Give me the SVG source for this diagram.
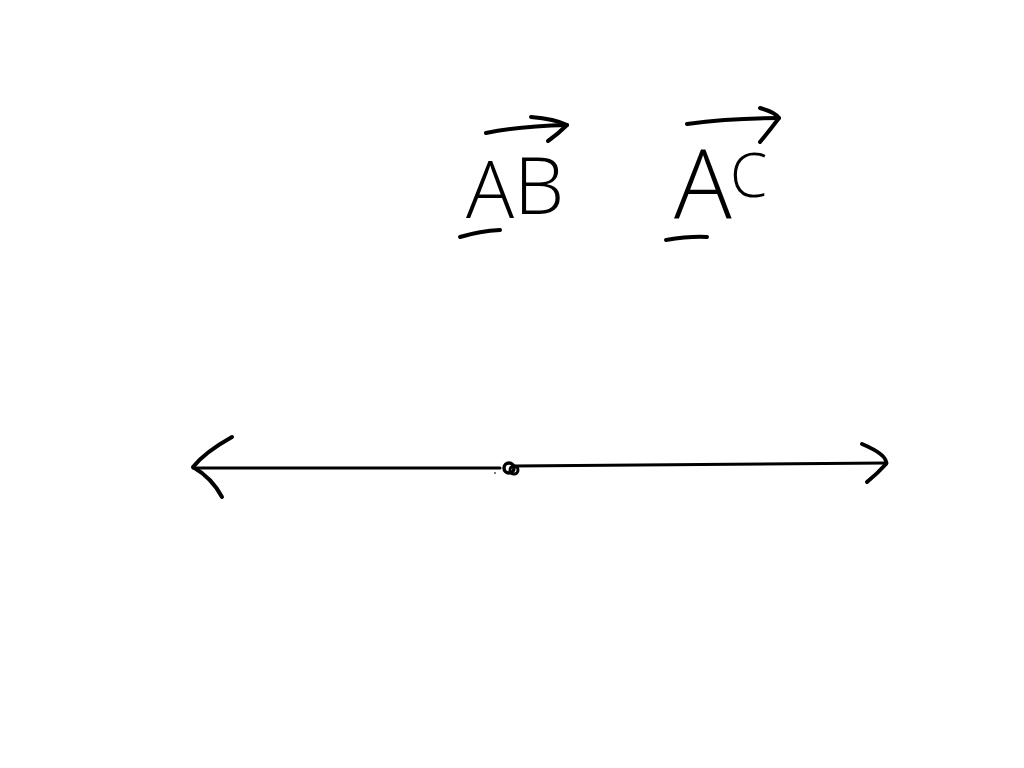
<svg xmlns="http://www.w3.org/2000/svg" width="1024" height="768" viewBox="0 0 1024 768">
<style>
.ink{fill:none;stroke:#000;stroke-width:4;stroke-linecap:round;stroke-linejoin:round}
.thin{fill:none;stroke:#000;stroke-width:3;stroke-linecap:round;stroke-linejoin:round}
.let{font-family:"Open Sans","Liberation Sans",Arial,sans-serif;font-weight:300;fill:#000}
</style>
<rect width="1024" height="768" fill="#fff"/>
<g id="label-AB">
<text class="let" x="466" y="218" font-size="80"><tspan font-size="80">A</tspan><tspan x="514" y="214" font-size="80">B</tspan></text>
<path class="ink" d="M486,133 Q520,126 567,125"/>
<path class="ink" d="M531,117 Q555,119 567,125 Q558,134 548,141"/>
<path class="ink" d="M460,237 Q480,231 500,230"/>
</g>
<g id="label-AC">
<text class="let" x="674" y="218" font-size="96"><tspan>A</tspan><tspan x="730" y="197" font-size="60">C</tspan></text>
<path class="ink" d="M687,124 Q730,118 779,118"/>
<path class="ink" d="M760,108 Q775,112 779,118 Q770,130 760,142"/>
<path class="ink" d="M666,240 Q690,236 707,237"/>
</g>
<g id="connectors">
<path class="thin" d="M193,468 L500,468 M514,466 L887,463"/>
<path class="ink" d="M232,437 Q205,452 193,467 Q212,478 222,497"/>
<path class="ink" d="M862,444 Q888,455 886,464 Q878,473 867,482"/>
</g>
<g id="point-origin">
<circle cx="509" cy="468" r="5" fill="none" stroke="#000" stroke-width="3.5"/>
<circle cx="514" cy="470" r="4" fill="none" stroke="#000" stroke-width="3"/>
<circle cx="495" cy="473" r="1" fill="#555"/>
</g>
</svg>
